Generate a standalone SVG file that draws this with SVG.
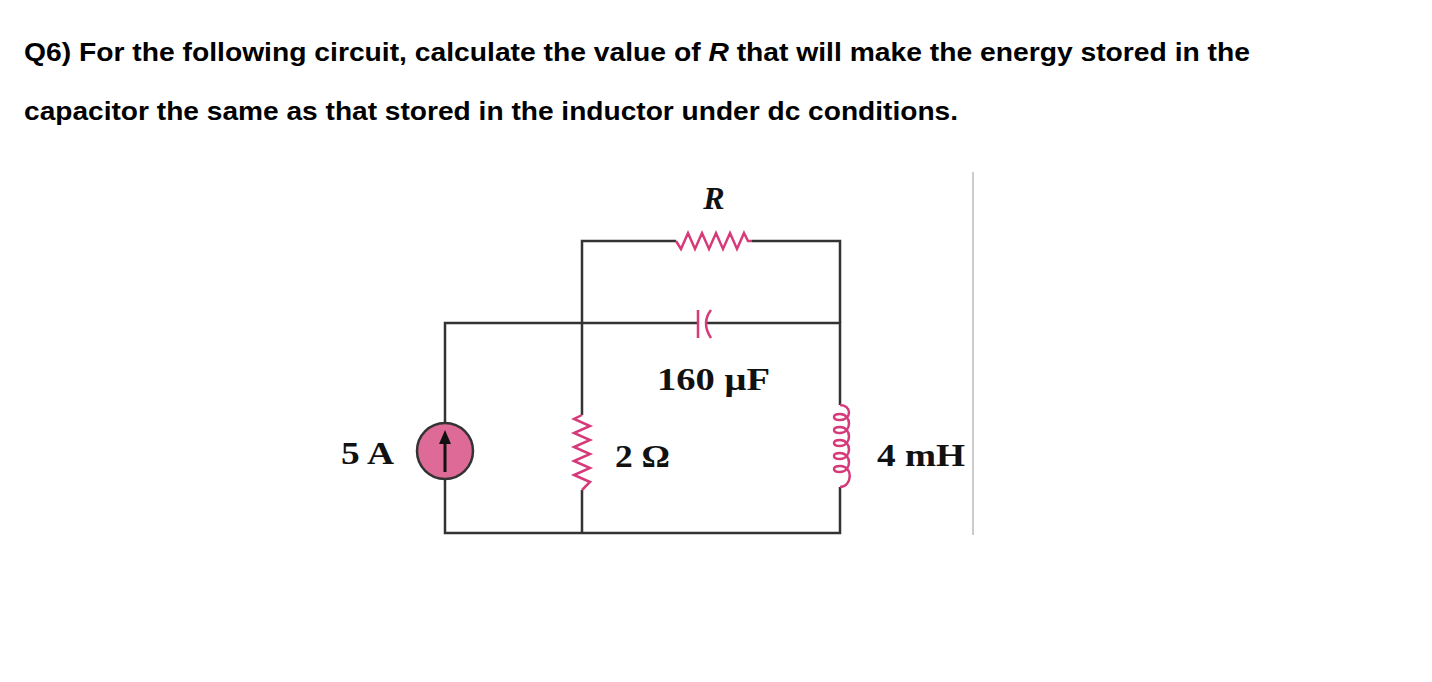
<svg xmlns="http://www.w3.org/2000/svg" width="1432" height="682" viewBox="0 0 1432 682">
<style>
.t{font-family:"Liberation Sans",Arial,sans-serif;font-weight:bold;font-size:26px;fill:#000}
.l{font-family:"Liberation Serif","Times New Roman",serif;font-weight:bold;font-size:32px;fill:#111}
.w{stroke:#333;stroke-width:2.5;fill:none}
.p{stroke:#d63a7a;stroke-width:2.5;fill:none;stroke-linejoin:miter}
</style>
<rect width="1432" height="682" fill="#fff"/>
<text class="t" x="24" y="61" textLength="1226" lengthAdjust="spacingAndGlyphs">Q6) For the following circuit, calculate the value of <tspan font-style="italic">R</tspan> that will make the energy stored in the</text>
<text class="t" x="24" y="120" textLength="934" lengthAdjust="spacingAndGlyphs">capacitor the same as that stored in the inductor under dc conditions.</text>
<line x1="973" y1="172" x2="973" y2="535" stroke="#bbb" stroke-width="1.5"/>
<g id="connectors">
<path class="w" d="M582,323 V241 H676 M752,241 H840 V323"/>
<path class="w" d="M445,423 V323 H699 M707,323 H840 V405 M840,487 V533 H445 V479"/>
<path class="w" d="M582,323 V415 M582,490 V533"/>
</g>
<g id="R"><path class="p" d="M676,241 L681,249 L688,233 L695,249 L702,233 L709,249 L716,233 L723,249 L730,233 L737,249 L744,233 L748,241 L752,241"/>
<text class="l" x="714" y="209" text-anchor="middle" font-style="italic">R</text></g>
<g id="C"><line class="p" x1="698" y1="310" x2="698" y2="338"/><path class="p" d="M711,310 Q701,323 711,338"/>
<text class="l" x="657" y="390" textLength="113" lengthAdjust="spacingAndGlyphs">160 μF</text></g>
<g id="source"><circle cx="445" cy="451" r="28" fill="#de6a98" stroke="#333" stroke-width="2.5"/>
<line x1="445" y1="472" x2="445" y2="440" stroke="#111" stroke-width="3"/><path d="M439,444 L445,430 L451,444 Z" fill="#111"/>
<text class="l" x="341" y="464" textLength="53" lengthAdjust="spacingAndGlyphs">5 A</text></g>
<g id="R2"><path class="p" d="M582,415 L574,419 L590,426 L574,433 L590,440 L574,447 L590,454 L574,461 L590,468 L574,475 L590,482 L582,490"/>
<text class="l" x="615" y="467" textLength="55" lengthAdjust="spacingAndGlyphs">2 Ω</text></g>
<g id="L"><path class="p" d="M840,405 C852,405 852,420 840,420 C832,420 832,414 840,414 C852,414 852,433 840,433 C832,433 832,427 840,427 C852,427 852,446 840,446 C832,446 832,440 840,440 C852,440 852,459 840,459 C832,459 832,453 840,453 C852,453 852,472 840,472 C832,472 832,466 840,466 C854,466 852,487 840,487"/>
<text class="l" x="877" y="466" textLength="88" lengthAdjust="spacingAndGlyphs">4 mH</text></g>
</svg>
